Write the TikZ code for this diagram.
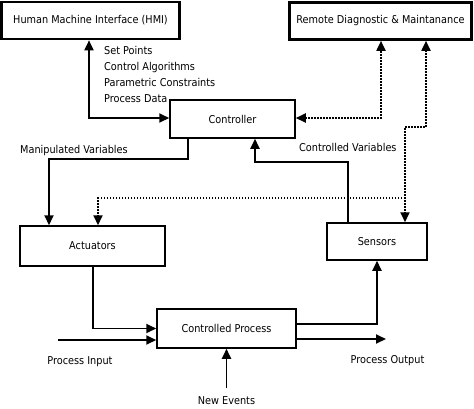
\documentclass[tikz,border=0pt]{standalone}
\usepackage{fontspec}
\setmainfont{DejaVu Sans Condensed}
\usetikzlibrary{arrows.meta}
\begin{document}
\begin{tikzpicture}[x=1bp,y=-1bp,
  every node/.style={font=\fontsize{10.8bp}{12bp}\selectfont, inner sep=0pt},
  box/.style={draw, line width=1.5bp, fill=white},
  bigbox/.style={draw, line width=2.6bp, fill=white},
  conn/.style={line width=1.8bp},
  dots/.style={line width=1.8bp, dash pattern=on 1.5bp off 1.5bp},
  tip/.style={-{Triangle[length=10bp,width=9bp]}},
  tips/.style={{Triangle[length=10bp,width=9bp]}-{Triangle[length=10bp,width=9bp]}}
]
\useasboundingbox (0,0) rectangle (474,408);
% boxes
\node[bigbox, minimum width=178bp, minimum height=37bp] (hmi) at (90.5,20.5) {Human Machine Interface (HMI)};
\node[bigbox, minimum width=182bp, minimum height=37bp] (rem) at (380.5,21) {Remote Diagnostic \& Maintanance};
\node[box, minimum width=125bp, minimum height=38bp] (ctrl) at (232.5,119) {Controller};
\node[box, minimum width=145bp, minimum height=40bp] (act) at (92.5,246) {Actuators};
\node[box, minimum width=100bp, minimum height=37bp] (sens) at (377,241.5) {Sensors};
\node[box, minimum width=139bp, minimum height=39bp] (cp) at (226.5,328.5) {Controlled Process};
% helper coordinates
\coordinate (hx) at (89,118);
\coordinate (r1) at (381,0);
\coordinate (r2) at (426,127);
\coordinate (s1) at (405,127);
\coordinate (dj) at (405,198);
\coordinate (a1) at (98,198);
\coordinate (m1) at (188,159);
\coordinate (m2) at (49,159);
\coordinate (c1) at (348,162);
\coordinate (c2) at (255,162);
\coordinate (a2) at (93,0);
\coordinate (pin) at (58,340);
\coordinate (ne) at (226.5,388);
\coordinate (so1) at (0,324);
\coordinate (po1) at (0,339);
\coordinate (pout) at (386,339);
% HMI <-> controller
\draw[conn,tips] (hx |- hmi.south) -- (hx) -- (ctrl.west |- hx);
% remote dotted
\draw[dots,tips] (ctrl.east |- hx) -| (r1 |- rem.south);
\draw[dots,tips] (r2 |- rem.south) -- (r2) -- (s1) -- (s1 |- sens.north);
\draw[dots,tip] (dj) -- (a1) -- (a1 |- act.north);
% manipulated variables
\draw[conn,tip] (m1 |- ctrl.south) -- (m1) -- (m2) -- (m2 |- act.north);
% controlled variables
\draw[conn,tip] (c1 |- sens.north) -- (c1) -- (c2) -- (c2 |- ctrl.south);
% actuators -> process
\draw[conn,tip] (a2 |- act.south) |- (cp.west);
\draw[conn,tip] (pin) -- (cp.west |- pin);
\draw[conn,tip] (ne) -- (cp.south);
\draw[conn,tip] (cp.east |- so1) -| (sens.south);
\draw[conn,tip] (cp.east |- po1) -- (pout);
% labels
\node[anchor=base west] (l1) at (104,54) {Set Points};
\node[anchor=base west] (l2) at (104,70) {Control Algorithms};
\node[anchor=base west] (l3) at (104,86) {Parametric Constraints};
\node[anchor=base west] (l4) at (104,102) {Process Data};
\node[anchor=base west] (lm) at (20,153) {Manipulated Variables};
\node[anchor=base west] (lc) at (299,151) {Controlled Variables};
\node[anchor=base] (lpi) at (80,364) {Process Input};
\node[anchor=base] (lpo) at (387.5,363) {Process Output};
\node[anchor=base] (lne) at (226.5,404) {New Events};
\end{tikzpicture}
\end{document}
